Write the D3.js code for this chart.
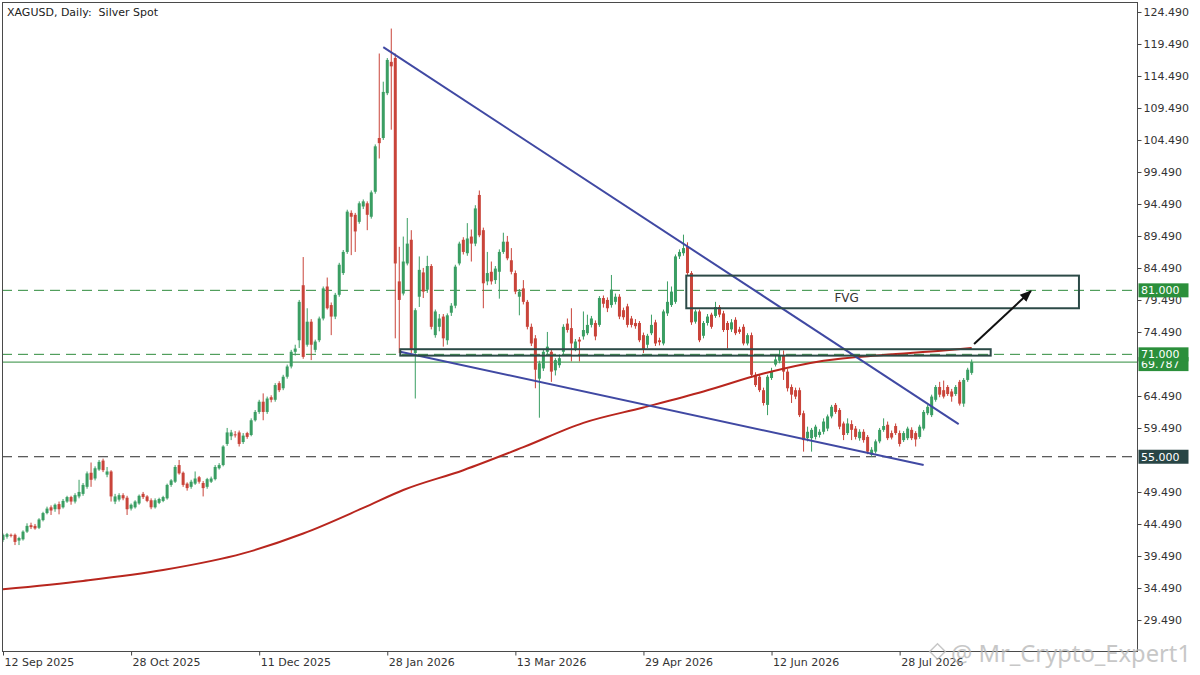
<!DOCTYPE html>
<html>
<head>
<meta charset="utf-8">
<script src="https://cdn.jsdelivr.net/npm/d3@7"></script>
<style>
  body { margin: 0; background: #fff; }
  svg { display: block; font-family: "DejaVu Sans", sans-serif; }
</style>
</head>
<body>
<svg id="chart" width="1200" height="675"></svg>
<script>
// daily candles, [open, high, low, close], one row per trading day from 12 Sep 2025
var ohlc = [
  [42.0,43.0,41.7,42.8],[42.5,43.1,42.2,42.9],[42.8,43.0,42.4,42.7],[42.8,43.0,41.2,41.7],[41.9,42.5,41.2,42.3],
  [42.1,43.5,41.9,43.3],[43.3,44.6,43.1,44.2],[44.3,44.7,43.7,44.0],[44.2,44.5,43.6,43.8],[43.9,45.4,43.7,45.2],
  [45.1,46.4,44.9,46.2],[46.2,47.2,46.0,46.9],[47.1,47.4,45.9,46.6],[46.8,47.7,46.4,47.5],[47.6,48.0,46.0,46.8],
  [47.1,48.4,46.9,48.1],[48.0,48.9,47.8,48.7],[48.7,48.9,47.5,48.0],[48.0,49.3,47.7,49.0],[48.8,51.4,48.5,49.5],
  [49.2,50.9,48.9,50.6],[50.3,52.7,50.0,52.4],[52.5,54.1,50.3,51.4],[51.6,53.5,51.3,53.2],[53.0,54.5,52.8,54.2],
  [54.4,54.7,52.6,52.9],[52.2,53.4,51.8,52.7],[52.7,52.9,48.0,48.8],[48.0,49.2,47.6,48.8],[48.3,49.3,48.0,49.0],
  [49.0,49.3,48.2,48.5],[48.6,48.9,45.9,46.8],[46.9,47.7,46.6,47.5],[47.1,48.2,46.9,48.0],[47.7,49.1,47.5,48.9],
  [49.2,49.5,48.4,48.7],[48.8,49.0,47.9,48.1],[48.2,48.5,46.8,47.1],[47.1,48.5,46.9,48.2],[47.8,48.6,47.6,48.4],
  [48.1,48.9,47.9,48.7],[48.5,50.8,48.3,50.6],[50.6,51.5,50.3,51.3],[51.1,53.7,50.9,53.4],[53.7,54.5,52.2,52.4],
  [52.5,52.7,50.3,50.6],[50.8,51.0,49.7,50.1],[50.3,51.4,50.0,51.1],[50.8,52.7,50.6,51.6],[51.8,52.0,50.8,51.1],
  [50.9,51.2,48.8,50.1],[50.3,51.7,50.0,51.5],[51.1,51.9,50.9,51.6],[51.5,53.7,51.3,53.4],[53.2,54.0,53.0,53.7],
  [53.7,56.8,53.5,56.6],[57.0,59.5,56.7,58.8],[58.2,59.2,57.6,58.8],[58.5,59.0,58.0,58.4],[58.8,59.1,56.6,57.0],
  [57.3,58.7,57.0,58.3],[58.7,58.9,57.8,58.1],[58.4,61.0,58.2,60.7],[60.7,62.3,60.5,62.0],[62.0,63.9,61.7,63.6],
  [63.6,64.9,60.7,62.0],[62.0,64.4,61.7,64.1],[64.3,64.6,63.5,63.9],[63.9,66.5,63.6,66.2],[66.5,66.8,65.1,65.4],
  [65.7,67.8,65.4,67.5],[67.5,69.4,67.2,69.1],[69.1,71.7,68.8,71.4],[71.4,72.5,70.8,71.9],[73.2,79.5,72.0,79.2],
  [81.8,86.2,70.3,70.6],[72.5,78.2,72.2,76.1],[76.1,76.5,70.1,72.5],[71.7,73.3,71.3,73.0],[73.2,76.9,72.9,76.6],
  [76.6,81.6,76.3,81.3],[81.6,83.0,78.0,78.2],[78.7,79.1,74.0,76.9],[76.9,80.6,76.5,80.3],[80.3,85.3,80.0,85.0],
  [83.7,87.3,83.4,87.0],[87.0,93.6,86.7,93.3],[93.1,93.5,86.5,92.5],[92.8,93.1,87.0,90.2],[91.7,94.9,91.4,94.6],
  [94.1,95.2,93.7,94.9],[94.6,94.9,90.4,92.8],[92.5,96.6,92.2,96.3],[96.4,103.8,96.1,103.5],[104.8,118.0,101.6,104.0],
  [104.8,113.6,104.5,112.0],[111.8,117.3,111.5,117.0],[116.7,121.9,106.1,116.0],[117.3,118.0,73.5,85.2],[82.4,87.8,71.2,79.5],
  [80.5,89.4,80.2,85.5],[85.2,92.3,84.9,88.3],[88.9,90.4,71.2,71.7],[71.2,78.2,64.1,77.9],[80.0,86.3,78.4,84.2],
  [83.8,84.5,79.8,80.8],[81.1,86.4,80.6,84.8],[84.8,85.1,74.9,75.3],[74.0,78.0,73.6,77.7],[75.3,77.3,74.6,76.6],
  [76.9,77.3,72.2,73.5],[73.2,77.4,72.5,77.1],[77.5,79.0,77.0,78.6],[78.6,85.0,78.2,84.7],[85.2,88.6,84.9,88.3],
  [88.9,89.3,86.6,87.0],[86.8,91.5,86.4,89.1],[89.4,90.5,85.5,88.3],[88.3,94.3,87.9,93.8],[95.9,96.6,89.3,89.6],
  [90.4,90.8,78.2,82.1],[82.4,87.0,81.8,83.7],[83.9,85.5,81.9,82.4],[82.6,84.8,82.0,84.4],[83.9,87.4,79.7,87.0],
  [87.0,90.0,86.7,88.6],[88.6,89.5,85.7,86.0],[85.7,87.6,83.5,83.9],[83.7,84.1,80.4,80.8],[80.0,81.2,77.1,80.8],
  [81.3,82.6,78.8,79.2],[79.2,79.5,74.9,75.3],[75.3,75.8,72.3,72.7],[73.5,74.0,65.7,68.6],[67.2,70.0,61.1,69.6],
  [68.8,71.8,68.4,71.4],[71.4,74.5,70.9,72.2],[71.4,71.8,66.7,68.3],[68.5,70.4,67.7,70.1],[69.3,71.0,68.9,70.4],
  [71.4,75.7,70.9,75.3],[75.8,76.6,74.4,74.8],[75.1,78.2,69.9,72.7],[71.9,73.4,71.5,73.0],[73.3,73.7,69.9,73.0],
  [73.8,77.7,73.3,74.8],[74.3,77.2,74.0,75.6],[75.6,77.0,75.2,76.6],[75.9,76.3,73.2,73.8],[75.6,80.1,75.3,79.8],
  [79.8,80.2,78.3,78.9],[79.5,79.9,77.6,78.2],[78.7,83.4,78.3,81.1],[79.2,80.5,78.8,80.0],[80.0,80.4,76.5,76.9],
  [77.9,78.3,76.4,76.8],[78.5,78.9,75.2,75.6],[76.6,77.0,75.2,75.6],[75.9,76.5,75.0,75.4],[75.9,76.2,72.9,73.2],
  [74.0,74.4,71.2,71.8],[72.5,74.2,72.0,73.9],[74.3,77.2,74.0,75.6],[76.0,76.4,72.3,72.7],[73.2,73.6,72.4,72.9],
  [72.7,78.0,72.4,77.7],[77.4,82.4,77.0,79.2],[78.7,81.6,78.4,80.8],[79.2,86.6,78.9,86.3],[86.3,87.4,85.9,87.0],
  [86.8,89.7,86.4,87.6],[87.8,88.5,83.3,83.7],[83.7,84.0,75.6,76.0],[76.1,78.0,75.8,77.7],[77.7,78.0,72.9,73.2],
  [73.9,76.2,73.5,75.9],[75.9,77.3,75.5,76.9],[77.2,77.5,75.0,75.3],[77.0,79.2,76.7,78.4],[78.4,78.7,76.8,77.2],
  [77.4,77.8,74.5,74.8],[75.9,76.2,71.9,74.8],[74.9,76.5,74.5,76.0],[76.4,76.8,74.0,74.3],[74.9,75.3,74.2,74.5],
  [75.3,75.7,72.4,72.7],[72.7,74.3,72.4,74.0],[74.0,74.4,67.4,67.8],[67.8,68.2,65.9,66.2],[67.5,67.9,65.1,65.4],
  [65.4,65.8,63.0,63.4],[63.1,67.8,61.5,67.5],[67.3,68.9,67.0,68.4],[69.4,70.9,69.1,70.2],[70.0,71.7,69.6,70.9],
  [70.9,71.6,67.0,68.3],[68.3,68.7,65.2,65.7],[65.9,66.3,63.4,64.7],[65.4,65.8,64.0,64.4],[65.4,65.8,61.2,61.5],
  [61.8,62.2,55.8,57.6],[57.9,59.7,57.4,58.9],[57.9,59.5,55.8,59.2],[58.1,60.0,57.7,59.7],[58.4,59.3,58.0,58.9],
  [58.9,61.0,58.5,60.5],[59.4,61.6,59.0,61.3],[61.3,63.1,61.0,62.8],[63.1,63.4,61.7,62.0],[62.3,62.6,59.3,59.7],
  [60.2,60.5,57.6,58.4],[58.7,61.0,58.4,60.2],[60.1,60.7,57.6,59.2],[59.4,59.8,57.7,58.1],[57.9,59.3,57.5,58.9],
  [58.9,59.3,57.2,57.6],[58.1,58.4,55.4,55.8],[55.3,56.5,55.0,56.1],[55.8,57.7,55.5,57.4],[57.4,59.5,57.1,59.2],
  [59.2,61.0,58.9,59.8],[60.0,60.5,57.6,57.9],[58.7,59.1,57.7,58.0],[59.8,60.2,58.4,58.7],[58.7,59.1,56.6,57.0],
  [57.6,59.0,57.3,58.7],[57.9,59.7,57.6,59.4],[59.2,59.6,57.6,57.9],[58.7,59.0,56.6,57.7],[58.1,60.0,57.8,59.7],
  [59.4,62.3,59.1,62.0],[61.8,63.1,61.5,62.8],[61.5,64.7,61.2,64.4],[63.9,66.2,63.6,65.9],[65.9,66.7,64.3,64.7],
  [65.4,66.9,64.1,64.4],[65.9,66.2,64.5,64.8],[65.2,65.6,63.6,64.4],[64.8,66.2,64.5,65.9],[66.7,67.0,63.0,63.3],
  [63.3,67.3,62.8,67.0],[67.0,68.9,66.7,68.6],[68.1,70.2,67.8,69.787]
];

var maBars   = [0, 20, 40, 60, 75, 90, 100, 115, 130, 145, 160, 175, 190, 205, 220, 235, 242];
var maValues = [34.3, 35.6, 37.3, 39.9, 43.0, 47.0, 49.8, 52.9, 56.5, 60.3, 62.7, 65.2, 68.0, 70.0, 70.9, 71.6, 72.0];

// axis values (54.490 and 69.490 sit under the level tags and are not shown)
var priceTicks = [29.49, 34.49, 39.49, 44.49, 49.49, 59.49, 64.49, 74.49,
                  79.49, 84.49, 89.49, 94.49, 99.49, 104.49, 109.49, 114.49, 119.49, 124.49];
var dateTickBars = [0, 32, 64, 96, 128, 160, 192, 224];
var dateTickLabels = ["12 Sep 2025", "28 Oct 2025", "11 Dec 2025", "28 Jan 2026",
                      "13 Mar 2026", "29 Apr 2026", "12 Jun 2026", "28 Jul 2026"];

// horizontal levels and last price
var levelPrices = [81, 71, 55];
var lastPrice = 69.787;

// drawn objects, [bar, price]
var upperTrend = [[95, 119.0], [238.75, 60.1]];
var lowerTrend = [[99.25, 71.4], [230, 53.7]];
var fvgZone = [[170.7, 83.3], [268.8, 78.2]];
var breakoutBox = [[99.25, 71.8], [246.75, 70.8]];
var targetArrow = [[242.6, 72.6], [256.8, 80.9]];

var svg = d3.select("#chart");
var plotL = 2, plotR = 1137, plotT = 2, plotB = 651;

var x = d3.scaleLinear().domain([0, 283.3]).range([3, plotR]);
var y = d3.scaleLinear().domain([24.65, 126.05]).range([plotB, plotT]);

var upColor = "#3a9e63", downColor = "#c9443a";

var defs = svg.append("defs");
defs.append("clipPath").attr("id", "plot")
  .append("rect").attr("x", plotL).attr("y", plotT)
  .attr("width", plotR - plotL).attr("height", plotB - plotT);

defs.append("marker")
  .attr("id", "arrowhead").attr("viewBox", "0 0 10 10")
  .attr("refX", 9).attr("refY", 5)
  .attr("markerWidth", 6).attr("markerHeight", 6)
  .attr("markerUnits", "strokeWidth")
  .attr("orient", "auto")
  .append("path").attr("d", "M0,1 L10,5 L0,9 Z").attr("fill", "#111");

var plot = svg.append("g").attr("clip-path", "url(#plot)");

// level lines
var levelColors = ["#2e8b3c", "#2e8b3c", "#2b2b2b"];
plot.selectAll(".level").data(levelPrices).enter().append("line")
  .attr("x1", plotL).attr("x2", plotR)
  .attr("y1", function (d) { return y(d); })
  .attr("y2", function (d) { return y(d); })
  .attr("stroke", function (d, i) { return levelColors[i]; })
  .attr("stroke-dasharray", "10,6");

plot.append("line")
  .attr("x1", plotL).attr("x2", plotR)
  .attr("y1", y(lastPrice)).attr("y2", y(lastPrice))
  .attr("stroke", "#2e8b3c");

// candles
var candles = plot.selectAll(".candle").data(ohlc).enter().append("g");
candles.append("line")
  .attr("x1", function (d, i) { return x(i); })
  .attr("x2", function (d, i) { return x(i); })
  .attr("y1", function (d) { return y(d[1]); })
  .attr("y2", function (d) { return y(d[2]); })
  .attr("stroke", function (d) { return d[3] >= d[0] ? upColor : downColor; })
  .attr("stroke-width", 1);
candles.append("rect")
  .attr("x", function (d, i) { return x(i) - 1.5; })
  .attr("width", 3)
  .attr("y", function (d) { return y(Math.max(d[0], d[3])); })
  .attr("height", function (d) { return Math.max(1, Math.abs(y(d[0]) - y(d[3]))); })
  .attr("fill", function (d) { return d[3] >= d[0] ? upColor : downColor; });

// moving average
var maLine = d3.line()
  .x(function (d) { return x(d); })
  .y(function (d, i) { return y(maValues[i]); })
  .curve(d3.curveMonotoneX);
plot.append("path").datum(maBars)
  .attr("d", maLine)
  .attr("fill", "none")
  .attr("stroke", "#b8261e")
  .attr("stroke-width", 2);

// trend lines
var seg = d3.line().x(function (d) { return x(d[0]); }).y(function (d) { return y(d[1]); });
[upperTrend, lowerTrend].forEach(function (t) {
  plot.append("path").attr("d", seg(t))
    .attr("fill", "none").attr("stroke", "#4049a3").attr("stroke-width", 2);
});

// boxes
[fvgZone, breakoutBox].forEach(function (b) {
  plot.append("rect")
    .attr("x", x(b[0][0])).attr("y", y(b[0][1]))
    .attr("width", x(b[1][0]) - x(b[0][0]))
    .attr("height", y(b[1][1]) - y(b[0][1]))
    .attr("fill", "none").attr("stroke", "#2c4a47").attr("stroke-width", 2);
});
plot.append("text")
  .attr("x", x((fvgZone[0][0] + fvgZone[1][0]) / 2) - 36)
  .attr("y", y((fvgZone[0][1] + fvgZone[1][1]) / 2) + 10)
  .attr("text-anchor", "middle")
  .attr("font-size", 12).attr("fill", "#333")
  .text("FVG");

plot.append("path").attr("d", seg(targetArrow))
  .attr("fill", "none")
  .attr("stroke", "#111").attr("stroke-width", 2)
  .attr("marker-end", "url(#arrowhead)");

// frame
svg.append("rect")
  .attr("x", plotL + 0.5).attr("y", plotT + 0.5)
  .attr("width", plotR - plotL).attr("height", plotB - plotT)
  .attr("fill", "none").attr("stroke", "#4a4a4a");

// right price axis
var yAxis = svg.append("g").attr("transform", "translate(" + (plotR + 0.5) + ",0)")
  .call(d3.axisRight(y).tickValues(priceTicks).tickSize(4).tickPadding(2)
    .tickFormat(d3.format(".3f")));
yAxis.select(".domain").remove();
yAxis.selectAll("text").attr("font-size", 11).attr("fill", "#333")
  .attr("font-family", "DejaVu Sans");
yAxis.selectAll("line").attr("stroke", "#444");

// bottom date axis
var xAxis = svg.append("g").attr("transform", "translate(0," + (plotB + 0.5) + ")")
  .call(d3.axisBottom(x).tickValues(dateTickBars).tickSize(4)
    .tickFormat(function (d, i) { return dateTickLabels[i]; }));
xAxis.select(".domain").remove();
xAxis.selectAll("text").attr("text-anchor", "start").attr("dx", 1)
  .attr("font-size", 11).attr("fill", "#333").attr("font-family", "DejaVu Sans");
xAxis.selectAll("line").attr("stroke", "#444");

// price tags on the axis
var tags = [lastPrice, levelPrices[0], levelPrices[1], levelPrices[2]];
var tagColors = ["#2b8f3b", "#2b8f3b", "#2b8f3b", "#284545"];
tags.forEach(function (p, i) {
  var cy = y(p) + (i === 0 ? 2 : 0);
  svg.append("rect")
    .attr("x", plotR + 1.5).attr("y", cy - 7)
    .attr("width", 50).attr("height", 14)
    .attr("fill", tagColors[i]);
  svg.append("text")
    .attr("x", plotR + 4).attr("y", cy + 4)
    .attr("font-size", 11).attr("fill", "#fff")
    .text(d3.format(".3f")(p));
});

// title
svg.append("text")
  .attr("x", 7).attr("y", 16)
  .attr("font-size", 11).attr("fill", "#222")
  .style("white-space", "pre")
  .text("XAGUSD, Daily:  Silver Spot");

// watermark
var wm = svg.append("g").attr("opacity", 0.75);
wm.append("rect").attr("x", 932).attr("y", 646).attr("width", 11).attr("height", 11)
  .attr("transform", "rotate(45 937.5 651.5)")
  .attr("fill", "none").attr("stroke", "#b5b5b5").attr("stroke-width", 1.5);
wm.append("text")
  .attr("x", 951).attr("y", 662)
  .attr("font-size", 23).attr("font-family", "Noto Sans").attr("fill", "#b5b5b5")
  .attr("textLength", 240).attr("lengthAdjust", "spacingAndGlyphs")
  .text("@ Mr_Crypto_Expert1");
</script>
</body>
</html>
